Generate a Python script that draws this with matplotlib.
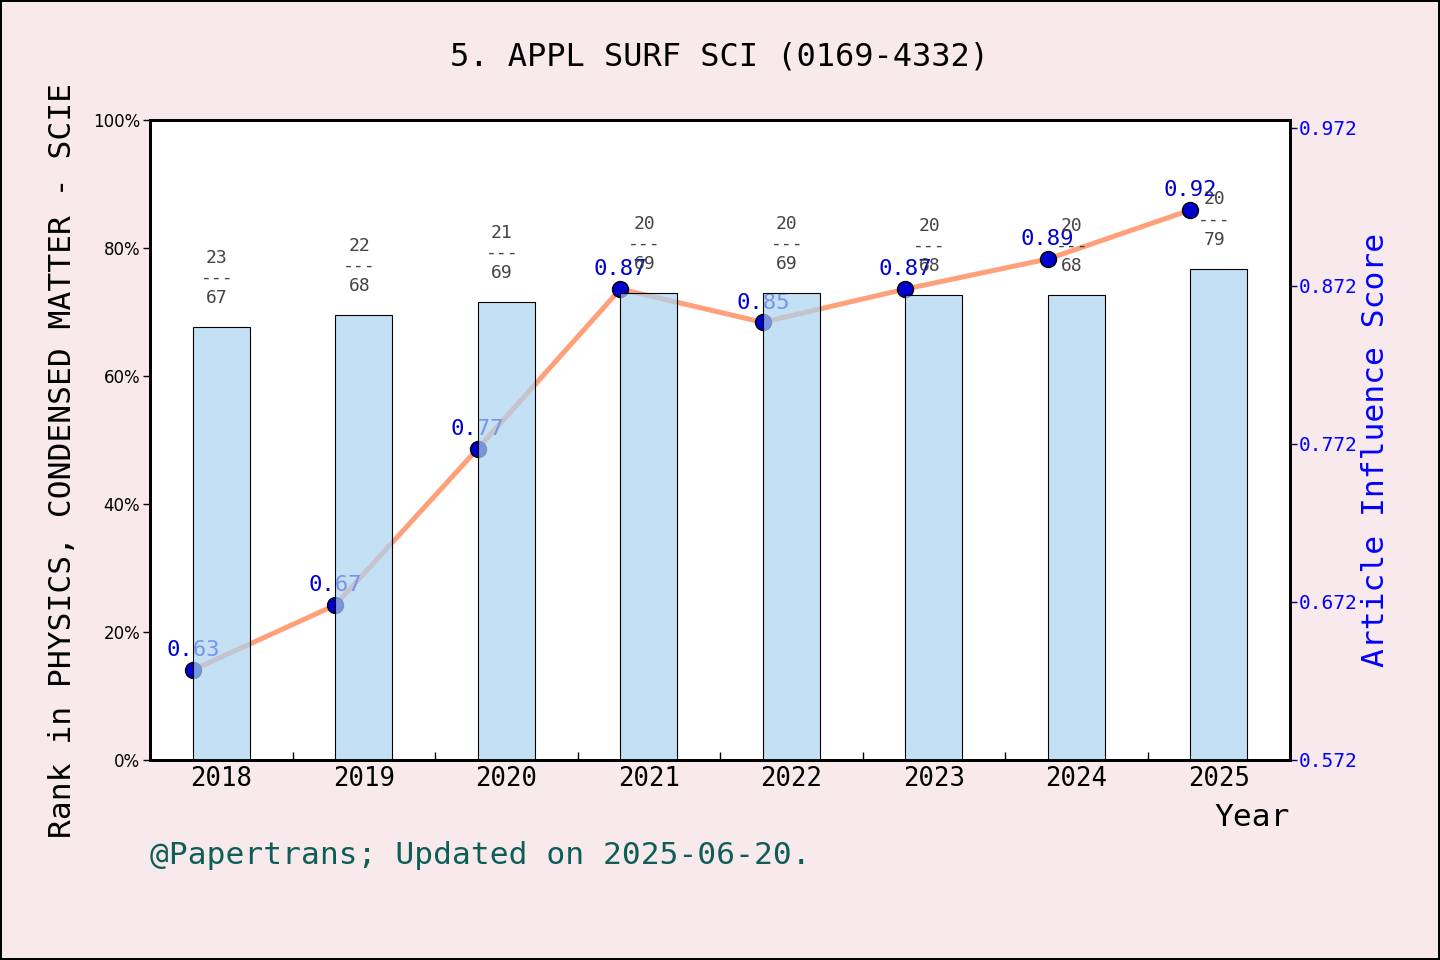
import matplotlib
matplotlib.use('Agg')
import matplotlib.pyplot as plt
import numpy as np

# data
years = ['2018', '2019', '2020', '2021', '2022', '2023', '2024', '2025']
ranks = [23, 22, 21, 20, 20, 20, 20, 20]
totals = [67, 68, 69, 69, 69, 68, 68, 79]
bar_pct = [67.6, 69.5, 71.5, 72.9, 72.9, 72.6, 72.6, 76.7]
ais = [0.629, 0.670, 0.769, 0.870, 0.849, 0.870, 0.889, 0.920]
ais_ticks = [0.572, 0.672, 0.772, 0.872, 0.972]
pct_ticks = [0, 20, 40, 60, 80, 100]

mono = 'DejaVu Sans Mono'
blue = '#0000cd'

fig = plt.figure(figsize=(14.4, 9.6), dpi=100, facecolor='#f8e9ec',
                 edgecolor='black', linewidth=1.5)
ax = fig.add_axes([150/1440, 200/960, 1140/1440, 640/960])
ax2 = ax.twinx()
# bars drawn over the line (semi transparent face)
ax.set_zorder(ax2.get_zorder() + 1)
ax.patch.set_visible(False)
ax2.patch.set_visible(True)
ax2.patch.set_facecolor('white')

x = np.arange(len(years))
ax.bar(x, bar_pct, width=0.4, color=(172/255, 211/255, 242/255, 0.7),
       edgecolor='black', linewidth=0.8)
for xi, h, r, t in zip(x, bar_pct, ranks, totals):
    ax.text(xi - 0.03, h + 3.2, f'{r}\n---\n{t}', ha='center', va='bottom',
            fontsize=13, color='#444444', family=mono, linespacing=1.15)

ax2.plot(x - 0.2, ais, color='#ffa07a', lw=3.6, marker='o', ms=11.5,
         mfc=blue, mec='black', mew=1)
for xi, v in zip(x, ais):
    ax2.annotate(f'{v:.2f}', (xi - 0.2, v), xytext=(0, 7), textcoords='offset points',
                 ha='center', va='bottom', color=blue, fontsize=16, family=mono)

ax.set_xlim(-0.5, len(years) - 0.5)
ax.set_ylim(0, 100)
ax.set_yticks(pct_ticks)
ax.set_yticklabels([f'{p}%' for p in pct_ticks], fontsize=12)
ax.set_xticks(x)
ax.set_xticklabels(years, fontsize=18.5, family=mono)
ax.set_xticks(x[:-1] + 0.5, minor=True)
ax.tick_params(axis='x', which='major', length=0, pad=4)
ax.tick_params(axis='x', which='minor', direction='in', length=6, width=1)
ax.tick_params(axis='y', length=5, width=1, pad=2)

ax2.set_ylim(0.572, 0.977)
ax2.set_yticks(ais_ticks)
ax2.set_yticklabels([f'{v:.3f}' for v in ais_ticks], color='blue', fontsize=14, family=mono)
ax2.tick_params(axis='y', length=5, width=1, color='#000080', pad=1)

for a in (ax, ax2):
    for s in a.spines.values():
        s.set_linewidth(2)

fig.text(0.5, 1 - 57/960, '5. APPL SURF SCI (0169-4332)', ha='center', va='center',
         fontsize=23, family=mono)
fig.text(63/1440, 1 - 461/960, 'Rank in PHYSICS, CONDENSED MATTER - SCIE', rotation=90,
         ha='center', va='center', fontsize=22.5, family=mono)
fig.text(1375/1440, 1 - 450/960, 'Article Influence Score', rotation=90, color='blue',
         ha='center', va='center', fontsize=22.5, family=mono)
fig.text(1290/1440, 1 - 817/960, 'Year', ha='right', va='center', fontsize=22.5, family=mono)
fig.text(150/1440, 1 - 855/960, '@Papertrans; Updated on 2025-06-20.', ha='left', va='center',
         fontsize=22.5, family=mono, color='#0e5e55')

fig.savefig('out.png', dpi=100)
